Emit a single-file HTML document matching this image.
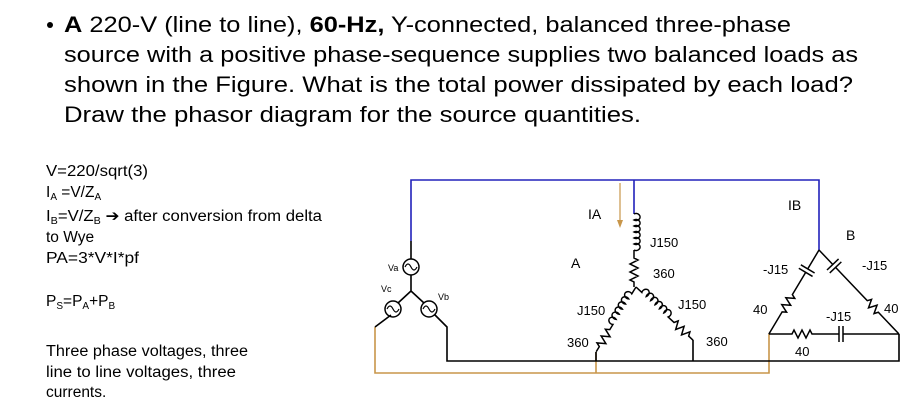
<!DOCTYPE html>
<html><head><meta charset="utf-8"><style>
html,body{margin:0;padding:0;background:#fff;}
svg{display:block;}
text{font-family:"Liberation Sans",sans-serif;fill:#000;}
</style></head><body>
<svg width="914" height="409" viewBox="0 0 914 409" xmlns="http://www.w3.org/2000/svg">
<!-- Header -->
<circle cx="50" cy="25" r="3" fill="#000"/>
<g font-size="22">
<text x="64" y="32" textLength="727" lengthAdjust="spacingAndGlyphs"><tspan font-weight="bold">A</tspan> 220-V (line to line), <tspan font-weight="bold">60-Hz,</tspan> Y-connected, balanced three-phase</text>
<text x="64" y="62" textLength="794" lengthAdjust="spacingAndGlyphs">source with a positive phase-sequence supplies two balanced loads as</text>
<text x="64" y="92" textLength="789" lengthAdjust="spacingAndGlyphs">shown in the Figure. What is the total power dissipated by each load?</text>
<text x="64" y="122" textLength="577" lengthAdjust="spacingAndGlyphs">Draw the phasor diagram for the source quantities.</text>
</g>
<!-- Left notes -->
<g font-size="15.5">
<text x="46" y="176" textLength="102" lengthAdjust="spacingAndGlyphs">V=220/sqrt(3)</text>
<text x="46" y="197">I<tspan font-size="10" dy="3">A</tspan><tspan dy="-3"> =V/Z</tspan><tspan font-size="10" dy="3">A</tspan></text>
<text x="46" y="221" textLength="276" lengthAdjust="spacingAndGlyphs">I<tspan font-size="10" dy="3">B</tspan><tspan dy="-3">=V/Z</tspan><tspan font-size="10" dy="3">B</tspan><tspan dy="-3"> ➔ after conversion from delta</tspan></text>
<text x="46" y="242">to Wye</text>
<text x="46" y="263" textLength="93" lengthAdjust="spacingAndGlyphs">PA=3*V*I*pf</text>
<text x="46" y="306">P<tspan font-size="10" dy="3">S</tspan><tspan dy="-3">=P</tspan><tspan font-size="10" dy="3">A</tspan><tspan dy="-3">+P</tspan><tspan font-size="10" dy="3">B</tspan></text>
<text x="46" y="356" textLength="202" lengthAdjust="spacingAndGlyphs">Three phase voltages, three</text>
<text x="46" y="377" textLength="190" lengthAdjust="spacingAndGlyphs">line to line voltages, three</text>
<text x="46" y="397">currents.</text>
</g>
<!-- Wires -->
<g fill="none" stroke-width="1.6">
<path d="M411 241 V180 H819 V250" stroke="#2222bb"/>
<path d="M634 180 V214" stroke="#2222bb"/>
<path d="M375 327 V373 H769 V334" stroke="#c8964a"/>
<path d="M596 352 V373" stroke="#c8964a"/>
<path d="M411 241 V259 M411 275 V291 L398 303 M391 315 L375 327 M411 291 L424 303 M435 315 L447 327 V361 H899 V334" stroke="#000"/>
<path d="M596 352 V361 M693 340 V361" stroke="#000"/>
<path d="M620 183 V222" stroke="#c8964a" stroke-width="1.2"/>
<path d="M617 220 L620 228 L623 220 Z" fill="#c8964a" stroke="none"/>
</g>
<!-- Sources -->
<g fill="none" stroke="#000" stroke-width="1.5">
<circle cx="411" cy="267" r="8"/>
<path d="M405 267 q3 -6 6 0 q3 6 6 0" stroke-width="1.2"/>
<circle cx="393" cy="309" r="8"/>
<path d="M387 309 q3 -6 6 0 q3 6 6 0" stroke-width="1.2"/>
<circle cx="429" cy="309" r="8"/>
<path d="M423 309 q3 -6 6 0 q3 6 6 0" stroke-width="1.2"/>
</g>
<!-- Y load -->
<g fill="none" stroke="#000" stroke-width="1.5">
<g transform="translate(634,214) rotate(90)">
<path d="M0 0 a3.5 4 0 1 1 6 0 a3.5 4 0 1 1 6 0 a3.5 4 0 1 1 6 0 a3.5 4 0 1 1 6 0 a3.5 4 0 1 1 6 0 a3.5 4 0 1 1 6 0 M36 0 H44 l2 -4 l4 8 l4 -8 l4 8 l4 -8 l4 8 l2 -4 H73"/>
</g>
<g transform="translate(636,287) rotate(121.6) scale(1,-1)">
<path d="M0 0 H8 a3.5 4 0 1 1 6 0 a3.5 4 0 1 1 6 0 a3.5 4 0 1 1 6 0 a3.5 4 0 1 1 6 0 a3.5 4 0 1 1 6 0 a3.5 4 0 1 1 6 0 H50 l2 -4 l4 8 l4 -8 l4 8 l4 -8 l2 4 H76"/>
</g>
<g transform="translate(636,287) rotate(43)">
<path d="M0 0 H8 a3.5 4 0 1 1 6 0 a3.5 4 0 1 1 6 0 a3.5 4 0 1 1 6 0 a3.5 4 0 1 1 6 0 a3.5 4 0 1 1 6 0 a3.5 4 0 1 1 6 0 H52 l2 -4 l4 8 l4 -8 l4 8 l4 -8 l2 4 H78"/>
</g>
</g>
<!-- Delta load -->
<g fill="none" stroke="#000" stroke-width="1.5">
<g transform="translate(819,250) rotate(120.8)">
<path d="M0 0 H22 M26 0 H52 l2 -4 l4 8 l4 -8 l4 8 l4 -8 l2 4 H98 M22 -8 V8 M26 -8 V8"/>
</g>
<g transform="translate(819,250) rotate(46.4)">
<path d="M0 0 H20 M24 0 H70 l2 -4 l4 8 l4 -8 l4 8 l2 -4 H116 M20 -8 V8 M24 -8 V8"/>
</g>
<path d="M769 334 H792 l2 -4 l4 8 l4 -8 l4 8 l4 -8 l2 4 H839 M843 334 H899 M839 326 V342 M843 326 V342"/>
</g>
<!-- Circuit labels -->
<g font-size="13">
<text x="588" y="219" font-size="14">IA</text>
<text x="571" y="268" font-size="14">A</text>
<text x="650" y="247">J150</text>
<text x="653" y="278">360</text>
<text x="577" y="315">J150</text>
<text x="567" y="347">360</text>
<text x="678" y="309">J150</text>
<text x="706" y="346">360</text>
<text x="788" y="210" font-size="14">IB</text>
<text x="846" y="240" font-size="14">B</text>
<text x="763" y="274">-J15</text>
<text x="862" y="270">-J15</text>
<text x="753" y="314">40</text>
<text x="884" y="313">40</text>
<text x="826" y="321">-J15</text>
<text x="795" y="356">40</text>
</g>
<g font-size="9">
<text x="388" y="271">Va</text>
<text x="381" y="292">Vc</text>
<text x="438" y="300">Vb</text>
</g>
</svg>
</body></html>
